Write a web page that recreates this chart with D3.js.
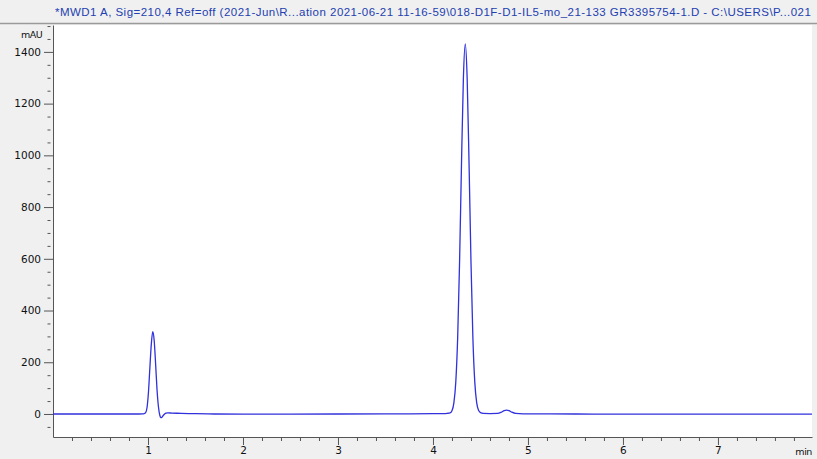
<!DOCTYPE html>
<html>
<head>
<meta charset="utf-8">
<script src="https://cdn.jsdelivr.net/npm/d3@7"></script>
<style>
  html, body { margin: 0; padding: 0; background: #f0f0f0; }
  svg { display: block; }
  .tick text { font-family: "DejaVu Sans", sans-serif; font-size: 10.5px; fill: #111; }
</style>
</head>
<body>
<div id="chart"></div>
<script>
// Chromatogram values (time in min, signal in mAU)
const timeMin = [
  0.00, 0.50, 0.90, 0.95,
  0.96, 0.975, 0.99, 1.005, 1.02, 1.035, 1.05, 1.065, 1.08, 1.095, 1.11, 1.125,
  1.135, 1.145, 1.16, 1.175, 1.19, 1.21, 1.25, 1.35, 1.50, 1.70, 2.00, 2.50,
  3.00, 3.50, 4.00, 4.10, 4.15,
  4.18, 4.20, 4.22, 4.24, 4.26, 4.28, 4.30, 4.32, 4.34, 4.36, 4.38, 4.40,
  4.42, 4.44, 4.46, 4.48, 4.50, 4.53, 4.60,
  4.68, 4.72, 4.75, 4.775, 4.80, 4.83, 4.87, 4.95, 5.50, 6.00, 7.00, 7.99
];
const signalMAU = [
  0, 0, 0, 0.5,
  1, 5, 25, 85, 180, 270, 318, 285, 195, 95, 28, -6,
  -14, -13, -6, 0, 3, 4, 3.5, 2.5, 1, 0, -0.5, -0.5,
  0, 0.5, 1, 1.5, 2.5,
  4, 12.5, 43, 123, 295, 588, 964, 1296, 1431, 1296, 964, 590,
  297, 124, 44, 14, 5, 2, 1.5,
  2, 7, 13, 15, 13, 7, 2, 0.5, 0, -0.5, -0.5, -0.5
];

const yMajorTicks = [0, 200, 400, 600, 800, 1000, 1200, 1400];
const yMinorTicks = d3.range(-50, 1501, 50).filter(v => v % 200 !== 0);
const xMajorTicks = [1, 2, 3, 4, 5, 6, 7];
const xMinorTicks = d3.range(1, 40).map(i => i / 5).filter(v => Math.abs(v - Math.round(v)) > 1e-6);

const title = "*MWD1 A, Sig=210,4 Ref=off (2021-Jun\\R...ation 2021-06-21 11-16-59\\018-D1F-D1-IL5-mo_21-133 GR3395754-1.D - C:\\USERS\\P...021";

const width = 817;
const height = 459;
const plot = { left: 53, right: 812, top: 25, bottom: 437 };

const svg = d3.select('#chart')
    .append('svg')
    .attr('width', width)
    .attr('height', height);

svg.append('rect')
    .attr('width', width).attr('height', height)
    .attr('fill', '#f0f0f0');

// title bar
svg.append('text')
    .attr('x', 55)
    .attr('y', 16)
    .attr('font-family', '"Liberation Sans", Arial, sans-serif')
    .attr('font-size', 11.5)
    .attr('letter-spacing', 0.47)
    .attr('fill', '#2340b0')
    .text(title);

svg.append('line')
    .attr('x1', 0).attr('x2', width)
    .attr('y1', 23.5).attr('y2', 23.5)
    .attr('stroke', '#9a9a9a').attr('stroke-width', 1.5);

// plot area
svg.append('rect')
    .attr('x', plot.left).attr('y', plot.top)
    .attr('width', plot.right - plot.left)
    .attr('height', plot.bottom - plot.top)
    .attr('fill', '#fff');

const x = d3.scaleLinear()
    .domain([0, 7.99])
    .range([plot.left, plot.right]);

const y = d3.scaleLinear()
    .domain([-89, 1504])
    .range([plot.bottom, plot.top]);

// axes
svg.append('g')
    .attr('transform', `translate(${plot.left}, 0)`)
    .call(d3.axisLeft(y).tickValues(yMajorTicks).tickFormat(d3.format('d'))
        .tickSize(9).tickPadding(3).tickSizeOuter(0));

svg.append('g')
    .attr('transform', `translate(${plot.left - 2.5}, 0)`)
    .call(d3.axisLeft(y).tickValues(yMinorTicks).tickSize(3).tickFormat('').tickSizeOuter(0))
    .select('.domain').remove();

svg.append('g')
    .attr('transform', `translate(0, ${plot.bottom})`)
    .call(d3.axisBottom(x).tickValues(xMajorTicks).tickFormat(d3.format('d'))
        .tickSize(8).tickPadding(2).tickSizeOuter(0));

svg.append('g')
    .attr('transform', `translate(0, ${plot.bottom})`)
    .call(d3.axisBottom(x).tickValues(xMinorTicks).tickSize(4).tickFormat('').tickSizeOuter(0))
    .select('.domain').remove();

svg.selectAll('.domain, .tick line').attr('stroke', '#555');

// unit labels
svg.append('text')
    .attr('x', 42).attr('y', 38)
    .attr('text-anchor', 'end')
    .attr('font-family', '"DejaVu Sans", sans-serif')
    .attr('font-size', 9.5)
    .attr('letter-spacing', -0.6)
    .attr('fill', '#111')
    .text('mAU');

svg.append('text')
    .attr('x', 812).attr('y', 455)
    .attr('text-anchor', 'end')
    .attr('font-family', '"DejaVu Sans", sans-serif')
    .attr('font-size', 9.5)
    .attr('letter-spacing', -0.4)
    .attr('fill', '#111')
    .text('min');

// signal trace
const points = timeMin.map((t, i) => [t, signalMAU[i]]);
const line = d3.line()
    .x(d => x(d[0]))
    .y(d => y(d[1]))
    .curve(d3.curveMonotoneX);

svg.append('path')
    .datum(points)
    .attr('d', line)
    .attr('fill', 'none')
    .attr('stroke', '#3030dc')
    .attr('stroke-width', 1.3);
</script>
</body>
</html>
